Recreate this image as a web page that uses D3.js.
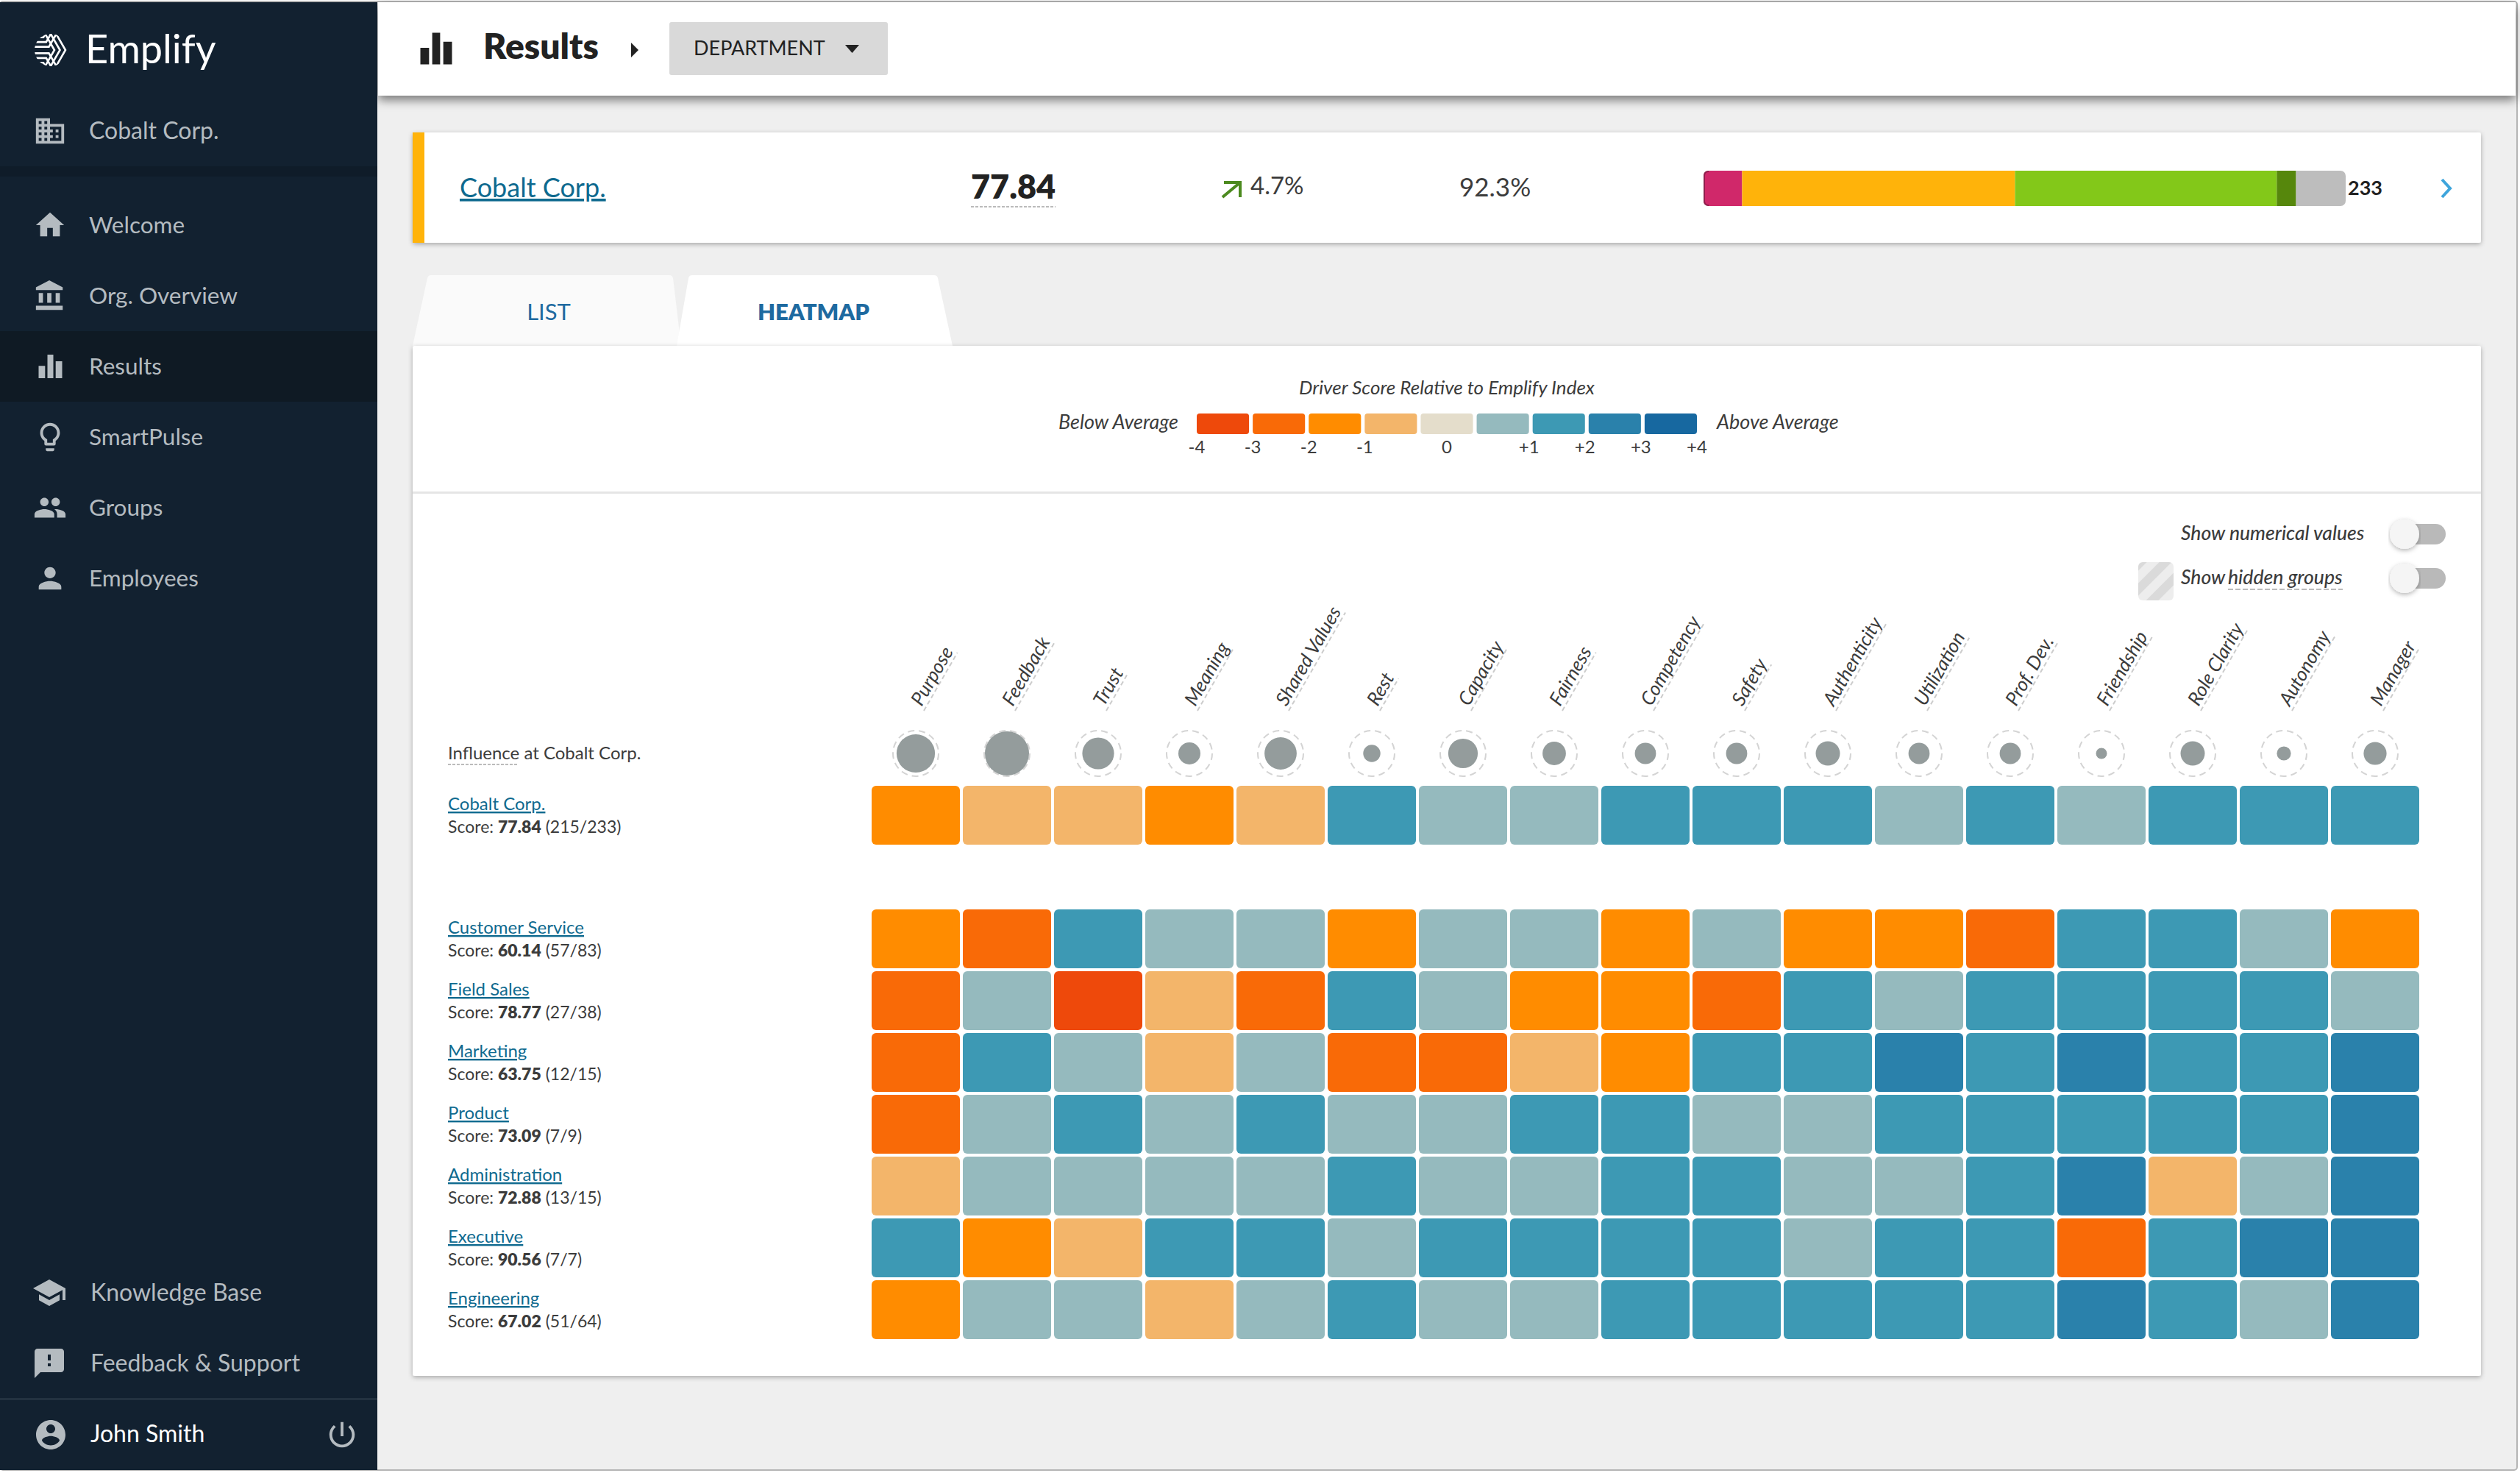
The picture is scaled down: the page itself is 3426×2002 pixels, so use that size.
<!DOCTYPE html>
<html>
<head>
<meta charset="utf-8">
<title>Emplify Results Heatmap</title>
<script src="https://cdn.jsdelivr.net/npm/d3@7"></script>
<style>
  html, body { margin: 0; padding: 0; background: #fff; }
  svg { display: block; }
  text { font-family: Lato, "Noto Sans", sans-serif; }
</style>
</head>
<body>
<div id="frame"></div>
<script>
/* global d3 */

// chart data
const drivers = ['Purpose', 'Feedback', 'Trust', 'Meaning', 'Shared Values', 'Rest', 'Capacity', 'Fairness',
  'Competency', 'Safety', 'Authenticity', 'Utilization', 'Prof. Dev.', 'Friendship', 'Role Clarity', 'Autonomy', 'Manager']
const influence = [87, 100, 72, 50, 73, 39, 67, 53, 48, 48, 55, 48, 48, 25, 55, 32, 52]

const orgName = 'Cobalt Corp.'
const orgScore = '77.84'
const orgCount = '(215/233)'
const orgCells = [-2, -1, -1, -2, -1, 2, 1, 1, 2, 2, 2, 1, 2, 1, 2, 2, 2]

const groupNames = ['Customer Service', 'Field Sales', 'Marketing', 'Product', 'Administration', 'Executive', 'Engineering']
const groupScores = ['60.14', '78.77', '63.75', '73.09', '72.88', '90.56', '67.02']
const groupCounts = ['(57/83)', '(27/38)', '(12/15)', '(7/9)', '(13/15)', '(7/7)', '(51/64)']
const customerService = [-2, -3, 2, 1, 1, -2, 1, 1, -2, 1, -2, -2, -3, 2, 2, 1, -2]
const fieldSales = [-3, 1, -4, -1, -3, 2, 1, -2, -2, -3, 2, 1, 2, 2, 2, 2, 1]
const marketing = [-3, 2, 1, -1, 1, -3, -3, -1, -2, 2, 2, 3, 2, 3, 2, 2, 3]
const product = [-3, 1, 2, 1, 2, 1, 1, 2, 2, 1, 1, 2, 2, 2, 2, 2, 3]
const administration = [-1, 1, 1, 1, 1, 2, 1, 1, 2, 2, 1, 1, 2, 3, -1, 1, 3]
const executive = [2, -2, -1, 2, 2, 1, 2, 2, 2, 2, 1, 2, 2, -3, 2, 3, 3]
const engineering = [-2, 1, 1, -1, 1, 2, 1, 1, 2, 2, 2, 2, 2, 3, 2, 1, 3]
const groupCells = [customerService, fieldSales, marketing, product, administration, executive, engineering]

const legendSteps = [-4, -3, -2, -1, 0, 1, 2, 3, 4]
const legendLabels = ['-4', '-3', '-2', '-1', '0', '+1', '+2', '+3', '+4']
const stepColors = ['#EE490B', '#F96A07', '#FF8C00', '#F3B56A', '#E4DDCB', '#95BABE', '#3D99B4', '#2A81AB', '#1768A0']

const responseCounts = [14, 99, 95, 7, 18]
const responseColors = ['#D0286A', '#FFB30A', '#83C819', '#56870C', '#BDBDBD']

const navTop = ['Welcome', 'Org. Overview', 'Results', 'SmartPulse', 'Groups', 'Employees']
const navBottom = ['Knowledge Base', 'Feedback & Support']

const icons = {
  home: 'M10 20v-6h4v6h5v-8h3L12 3 2 12h3v8z',
  building: 'M12 7V3H2v18h20V7H12zM6 19H4v-2h2v2zm0-4H4v-2h2v2zm0-4H4V9h2v2zm0-4H4V5h2v2zm4 12H8v-2h2v2zm0-4H8v-2h2v2zm0-4H8V9h2v2zm0-4H8V5h2v2zm10 12h-8v-2h2v-2h-2v-2h2v-2h-2V9h8v10zm-2-8h-2v2h2v-2zm0 4h-2v2h2v-2z',
  bank: 'M4 10v7h3v-7H4zm6 0v7h3v-7h-3zM2 22h19v-3H2v3zm14-12v7h3v-7h-3zm-4.5-9L2 6v2h19V6l-9.5-5z',
  bars: 'M0 11.4h6.6V24H0z M9 0h6v24H9z M17.4 6.8H24V24h-6.6z',
  bulb: 'M9 21c0 .55.45 1 1 1h4c.55 0 1-.45 1-1v-1H9v1zm3-19C8.14 2 5 5.14 5 9c0 2.38 1.19 4.47 3 5.74V17c0 .55.45 1 1 1h6c.55 0 1-.45 1-1v-2.26c1.81-1.27 3-3.36 3-5.74 0-3.86-3.14-7-7-7zm2.85 11.1l-.85.6V16h-4v-2.3l-.85-.6C7.8 12.16 7 10.63 7 9c0-2.76 2.24-5 5-5s5 2.24 5 5c0 1.63-.8 3.16-2.15 4.1z',
  group: 'M16 11c1.66 0 2.99-1.34 2.99-3S17.66 5 16 5c-1.66 0-3 1.34-3 3s1.34 3 3 3zm-8 0c1.66 0 2.99-1.34 2.99-3S9.66 5 8 5C6.34 5 5 6.34 5 8s1.34 3 3 3zm0 2c-2.33 0-7 1.17-7 3.5V19h14v-2.5c0-2.33-4.67-3.5-7-3.5zm8 0c-.29 0-.62.02-.97.05 1.16.84 1.97 1.97 1.97 3.45V19h6v-2.5c0-2.33-4.67-3.5-7-3.5z',
  person: 'M12 12c2.21 0 4-1.79 4-4s-1.79-4-4-4-4 1.79-4 4 1.79 4 4 4zm0 2c-2.67 0-8 1.34-8 4v2h16v-2c0-2.66-5.33-4-8-4z',
  school: 'M5 13.18v4L12 21l7-3.82v-4L12 17l-7-3.82zM12 3L1 9l11 6 9-4.91V17h2V9L12 3z',
  feedback: 'M20 2H4c-1.1 0-1.99.9-1.99 2L2 22l4-4h14c1.1 0 2-.9 2-2V4c0-1.1-.9-2-2-2zm-7 12h-2v-2h2v2zm0-4h-2V6h2v4z',
  user: 'M12 2C6.48 2 2 6.48 2 12s4.48 10 10 10 10-4.48 10-10S17.52 2 12 2zm0 3c1.66 0 3 1.34 3 3s-1.34 3-3 3-3-1.34-3-3 1.34-3 3-3zm0 14.2c-2.5 0-4.71-1.28-6-3.22.03-1.99 4-3.08 6-3.08 1.99 0 5.97 1.09 6 3.08-1.29 1.94-3.5 3.22-6 3.22z',
  power: 'M13 3h-2v10h2V3zm4.83 2.17l-1.42 1.42C17.99 7.86 19 9.81 19 12c0 3.87-3.13 7-7 7s-7-3.13-7-7c0-2.19 1.01-4.14 2.58-5.42L6.17 5.17C4.23 6.82 3 9.26 3 12c0 4.97 4.03 9 9 9s9-4.03 9-9c0-2.74-1.23-5.18-3.17-6.83z'
}
const navTopIcons = ['home', 'bank', 'bars', 'bulb', 'group', 'person']
const navBottomIcons = ['school', 'feedback']

const width = 3426
const height = 2002
const ink = '#3c3c3c'
const linkBlue = '#0F6A8F'
const navGrey = '#B4BBC0'

const svg = d3.select('#frame').append('svg')
  .attr('width', width)
  .attr('height', height)
  .attr('viewBox', `0 0 ${width} ${height}`)

const defs = svg.append('defs')
addShadow('shadow-head', 6, 7, 0.5)
addShadow('shadow-card', 2, 3, 0.3)
addShadow('shadow-knob', 2, 3, 0.3)

const hatch = defs.append('pattern')
  .attr('id', 'hatch')
  .attr('width', 24)
  .attr('height', 24)
  .attr('patternUnits', 'userSpaceOnUse')
  .attr('patternTransform', 'rotate(45)')
hatch.append('rect').attr('width', 24).attr('height', 24).attr('fill', '#EDEDED')
hatch.append('rect').attr('width', 12).attr('height', 24).attr('fill', '#DADADA')

defs.append('clipPath').attr('id', 'logo-clip')
  .append('circle').attr('r', 22)

// window
svg.append('rect').attr('width', width).attr('height', height).attr('fill', '#fff')
svg.append('rect').attr('x', 0).attr('y', 2).attr('width', 3422).attr('height', 1996)
  .attr('rx', 4).attr('fill', '#EFEFEF').attr('stroke', '#B5B5B5').attr('stroke-width', 2)

drawHeader()
drawSummary()
drawTabs()
drawPanel()
drawSidebar()

function addShadow (id, dy, blur, opacity) {
  const f = defs.append('filter').attr('id', id)
    .attr('x', '-5%').attr('y', '-30%').attr('width', '110%').attr('height', '170%')
  f.append('feDropShadow')
    .attr('dx', 0).attr('dy', dy)
    .attr('stdDeviation', blur)
    .attr('flood-color', '#000')
    .attr('flood-opacity', opacity)
}

function label (parent, x, y, str, size, fill, opts = {}) {
  return parent.append('text')
    .attr('x', x)
    .attr('y', y)
    .attr('font-size', size)
    .attr('fill', fill)
    .attr('font-weight', opts.weight || 400)
    .attr('font-style', opts.style || 'normal')
    .attr('text-anchor', opts.anchor || 'start')
    .attr('text-decoration', opts.underline ? 'underline' : null)
    .text(str)
}

function icon (parent, name, cx, cy, size, fill) {
  const s = size / 24
  parent.append('path')
    .attr('d', icons[name])
    .attr('fill', fill)
    .attr('transform', `translate(${cx - 12 * s},${cy - 12 * s}) scale(${s})`)
}

function drawHeader () {
  const g = svg.append('g')
  g.append('rect').attr('x', 514).attr('y', 3).attr('width', 2906).attr('height', 127)
    .attr('fill', '#fff').attr('filter', 'url(#shadow-head)')
  icon(g, 'bars', 593, 66, 43, '#222')
  label(g, 657, 80, 'Results', 48, '#222', {weight: 800})
  g.append('path').attr('d', 'M858 58 L868 68 L858 78 Z').attr('fill', '#222')
  g.append('rect').attr('x', 910).attr('y', 30).attr('width', 297).attr('height', 72).attr('rx', 3).attr('fill', '#D9D9D9')
  label(g, 943, 75, 'DEPARTMENT', 27, '#222')
  g.append('path').attr('d', 'M1149 61 L1168 61 L1158.5 72 Z').attr('fill', '#222')
}

function drawSummary () {
  const g = svg.append('g')
  g.append('rect').attr('x', 561).attr('y', 180).attr('width', 2812).attr('height', 150)
    .attr('fill', '#fff').attr('rx', 3).attr('filter', 'url(#shadow-card)')
  g.append('rect').attr('x', 561).attr('y', 180).attr('width', 16).attr('height', 150).attr('fill', '#FFB30A')
  label(g, 625, 268, orgName, 36, linkBlue, {underline: true})

  label(g, 1320, 270, orgScore, 45, '#222', {weight: 800})
  g.append('line').attr('x1', 1320).attr('x2', 1435).attr('y1', 281).attr('y2', 281)
    .attr('stroke', '#bbb').attr('stroke-width', 2).attr('stroke-dasharray', '4 2')
  g.append('path').attr('d', 'M1664 248 L1686 248 L1686 268 M1686 248 L1662 268')
    .attr('fill', 'none').attr('stroke', '#4C8A1F').attr('stroke-width', 4)
  label(g, 1700, 264, '4.7%', 33, ink)
  label(g, 1984, 267, '92.3%', 35, ink)

  // response split drawn from the counts
  const x = d3.scaleLinear().domain([0, d3.sum(responseCounts)]).range([2316, 3189])
  const stack = d3.cumsum(responseCounts)
  defs.append('clipPath').attr('id', 'bar-clip')
    .append('rect').attr('x', 2316).attr('y', 232).attr('width', 873).attr('height', 48).attr('rx', 7)
  g.append('g').attr('clip-path', 'url(#bar-clip)')
    .selectAll('rect')
    .data(responseCounts)
    .join('rect')
    .attr('x', (d, i) => x(stack[i] - d))
    .attr('y', 232)
    .attr('width', d => x(d) - x(0))
    .attr('height', 48)
    .attr('fill', (d, i) => responseColors[i])
  g.append('path').attr('d', 'M2323 233 Q2317 233 2317 239 L2317 273 Q2317 279 2323 279')
    .attr('fill', 'none').attr('stroke', '#8E1F4C').attr('stroke-width', 2)

  label(g, 3192, 265, String(d3.sum(responseCounts)), 27, '#222', {weight: 700})
  g.append('path').attr('d', 'M3320 244 L3331 256 L3320 268')
    .attr('fill', 'none').attr('stroke', '#3EA5DC').attr('stroke-width', 4)
}

function drawTabs () {
  const g = svg.append('g')
  g.append('path').attr('d', 'M561 470 L581 378 Q582 374 586 374 L910 374 Q914 374 915 378 L926 470 Z').attr('fill', '#FAFAFA')
  g.append('path').attr('d', 'M920 470 L936 378 Q937 374 941 374 L1270 374 Q1274 374 1275 378 L1295 470 Z').attr('fill', '#fff')
  label(g, 746, 435, 'LIST', 31, '#1E6AA0', {anchor: 'middle'})
  label(g, 1106, 435, 'HEATMAP', 31, '#1E6AA0', {anchor: 'middle', weight: 800})
}

function drawPanel () {
  const g = svg.append('g')
  g.append('rect').attr('x', 561).attr('y', 470).attr('width', 2812).attr('height', 1400)
    .attr('fill', '#fff').attr('rx', 3).attr('filter', 'url(#shadow-card)')
  g.append('rect').attr('x', 561).attr('y', 668).attr('width', 2812).attr('height', 3).attr('fill', '#E5E5E5')

  drawLegend(g)
  drawToggles(g)
  drawHeatmap(g)
}

function drawLegend (g) {
  label(g, 1967, 536, 'Driver Score Relative to Emplify Index', 26, ink, {style: 'italic', anchor: 'middle'})
  label(g, 1602, 583, 'Below Average', 27, ink, {style: 'italic', anchor: 'end'})
  label(g, 2334, 583, 'Above Average', 27, ink, {style: 'italic'})

  const x = d3.scaleBand().domain(legendSteps).range([1627, 2307]).paddingInner(5 / 76)
  const color = d3.scaleOrdinal().domain(legendSteps).range(stepColors)
  g.selectAll('rect.swatch')
    .data(legendSteps)
    .join('rect')
    .attr('class', 'swatch')
    .attr('x', d => x(d))
    .attr('y', 562)
    .attr('width', x.bandwidth())
    .attr('height', 28)
    .attr('rx', 4)
    .attr('fill', d => color(d))

  // below-average ticks sit on the left edge, above-average on the right
  const tickX = d => d < 0 ? x(d) : d > 0 ? x(d) + x.bandwidth() : x(d) + x.bandwidth() / 2
  g.selectAll('text.step')
    .data(legendSteps)
    .join('text')
    .attr('class', 'step')
    .attr('x', d => tickX(d))
    .attr('y', 616)
    .attr('text-anchor', 'middle')
    .attr('font-size', 24)
    .attr('fill', ink)
    .text((d, i) => legendLabels[i])
}

function toggle (g, cy) {
  g.append('rect').attr('x', 3250).attr('y', cy - 14).attr('width', 75).attr('height', 28).attr('rx', 14).attr('fill', '#B9B9B9')
  g.append('circle').attr('cx', 3269).attr('cy', cy).attr('r', 20).attr('fill', '#F5F5F5').attr('filter', 'url(#shadow-knob)')
}

function drawToggles (g) {
  label(g, 2965, 734, 'Show numerical values', 26.5, ink, {style: 'italic', weight: 500})
  toggle(g, 726)
  g.append('rect').attr('x', 2907).attr('y', 764).attr('width', 48).attr('height', 52).attr('rx', 6).attr('fill', 'url(#hatch)')
  label(g, 2965, 794, 'Show', 26.5, ink, {style: 'italic', weight: 500})
  label(g, 3029, 794, 'hidden groups', 26.5, ink, {style: 'italic', weight: 500})
  g.append('line').attr('x1', 3029).attr('x2', 3185).attr('y1', 801).attr('y2', 801)
    .attr('stroke', '#bbb').attr('stroke-width', 2).attr('stroke-dasharray', '7 3')
  toggle(g, 786)
}

function drawHeatmap (g) {
  const x = d3.scaleBand().domain(drivers).range([1185, 3289]).paddingInner(4 / 124)
  const y = d3.scaleBand().domain(groupNames).range([1236, 1820]).paddingInner(4 / 84)
  const color = d3.scaleOrdinal().domain(legendSteps).range(stepColors)
  const r = d3.scaleLinear().domain([0, 100]).range([0, 30])
  const cx = d => x(d) + x.bandwidth() / 2

  // rotated driver names with the dashed rule beside them
  const heads = g.append('g').selectAll('g')
    .data(drivers)
    .join('g')
  heads.append('text')
    .attr('transform', d => `translate(${cx(d) + 8},961) rotate(-60)`)
    .attr('font-size', 26)
    .attr('font-style', 'italic')
    .attr('fill', ink)
    .text(d => d)
  heads.append('line')
    .attr('transform', d => `translate(${cx(d) + 11},966) rotate(-60)`)
    .attr('x2', function () { return this.parentNode.querySelector('text').getComputedTextLength() + 4 })
    .attr('stroke', '#ccc')
    .attr('stroke-width', 2)
    .attr('stroke-dasharray', '6 4')

  // influence row
  label(g, 609, 1032, 'Influence at Cobalt Corp.', 24, ink)
  g.append('line').attr('x1', 609).attr('x2', 705).attr('y1', 1039).attr('y2', 1039)
    .attr('stroke', '#bbb').attr('stroke-width', 2).attr('stroke-dasharray', '4 2')
  g.selectAll('circle.outer')
    .data(drivers)
    .join('circle')
    .attr('class', 'outer')
    .attr('cx', d => cx(d))
    .attr('cy', 1024)
    .attr('r', 31)
    .attr('fill', 'none')
    .attr('stroke', '#d4d4d4')
    .attr('stroke-width', 2)
    .attr('stroke-dasharray', '9 6')
  g.selectAll('circle.inner')
    .data(influence)
    .join('circle')
    .attr('class', 'inner')
    .attr('cx', (d, i) => cx(drivers[i]))
    .attr('cy', 1024)
    .attr('r', d => r(d))
    .attr('fill', '#949C9C')

  // org row
  drawRow(g, orgName, orgScore, orgCount, orgCells, 1068, x, y.bandwidth(), color)

  // group rows
  groupNames.forEach((name, i) => {
    drawRow(g, name, groupScores[i], groupCounts[i], groupCells[i], y(name), x, y.bandwidth(), color)
  })
}

function drawRow (g, name, score, count, cells, top, x, h, color) {
  const row = g.append('g')
  label(row, 609, top + 33, name, 24, linkBlue, {underline: true})
  const s = label(row, 609, top + 64, 'Score: ', 23, ink)
  s.append('tspan').attr('font-weight', 800).text(score)
  s.append('tspan').text(' ' + count)
  row.selectAll('rect')
    .data(cells)
    .join('rect')
    .attr('x', (d, i) => x(drivers[i]))
    .attr('y', top)
    .attr('width', x.bandwidth())
    .attr('height', h)
    .attr('rx', 6)
    .attr('fill', d => color(d))
}

function drawSidebar () {
  const g = svg.append('g')
  g.append('rect').attr('x', 0).attr('y', 3).attr('width', 513).attr('height', 1995).attr('fill', '#122130')
  g.append('rect').attr('x', 0).attr('y', 226).attr('width', 513).attr('height', 14).attr('fill', '#0F1C29')
  g.append('rect').attr('x', 0).attr('y', 450).attr('width', 513).attr('height', 96).attr('fill', '#0F1A24')
  g.append('rect').attr('x', 0).attr('y', 1900).attr('width', 513).attr('height', 3).attr('fill', '#233240')

  drawLogo(g)
  label(g, 116, 86, 'Emplify', 54, '#fff')

  icon(g, 'building', 68, 178, 46, navGrey)
  label(g, 121, 189, orgName, 32, navGrey)

  const topY = d3.scaleLinear().domain([0, 1]).range([317, 413])
  navTop.forEach((name, i) => {
    if (name === 'Results') {
      icon(g, 'bars', 68.5, 498, 32, navGrey)
    } else {
      icon(g, navTopIcons[i], 68, topY(i) - 11, 46, navGrey)
    }
    label(g, 121, topY(i), name, 31.5, navGrey)
  })
  const bottomY = d3.scaleLinear().domain([0, 1]).range([1768, 1864])
  navBottom.forEach((name, i) => {
    icon(g, navBottomIcons[i], 67, bottomY(i) - 11, 48, navGrey)
    label(g, 123, bottomY(i), name, 32, navGrey)
  })

  icon(g, 'user', 69, 1950, 48, navGrey)
  label(g, 123, 1960, 'John Smith', 32, '#fff')
  icon(g, 'power', 465, 1950, 46, navGrey)
}

function drawLogo (g) {
  const logo = g.append('g').attr('transform', 'translate(69,68)').attr('clip-path', 'url(#logo-clip)')
  const arm = 40
  const polar = (a, d) => [d * Math.cos(a * Math.PI / 180), d * Math.sin(a * Math.PI / 180)]
  d3.range(4).forEach(k => {
    const d = 5 + k * 7.5
    // upper and lower fans open outward, right fan points outward
    ;[[-120, -60, -180], [120, 60, 180], [0, -120, 120]].forEach(([spoke, a, b]) => {
      const p = polar(spoke, d)
      const p1 = polar(a, arm)
      const p2 = polar(b, arm)
      logo.append('path')
        .attr('d', `M${p[0] + p1[0]} ${p[1] + p1[1]} L${p[0]} ${p[1]} L${p[0] + p2[0]} ${p[1] + p2[1]}`)
        .attr('fill', 'none')
        .attr('stroke', '#fff')
        .attr('stroke-width', 2.6)
    })
  })
}
</script>
</body>
</html>
